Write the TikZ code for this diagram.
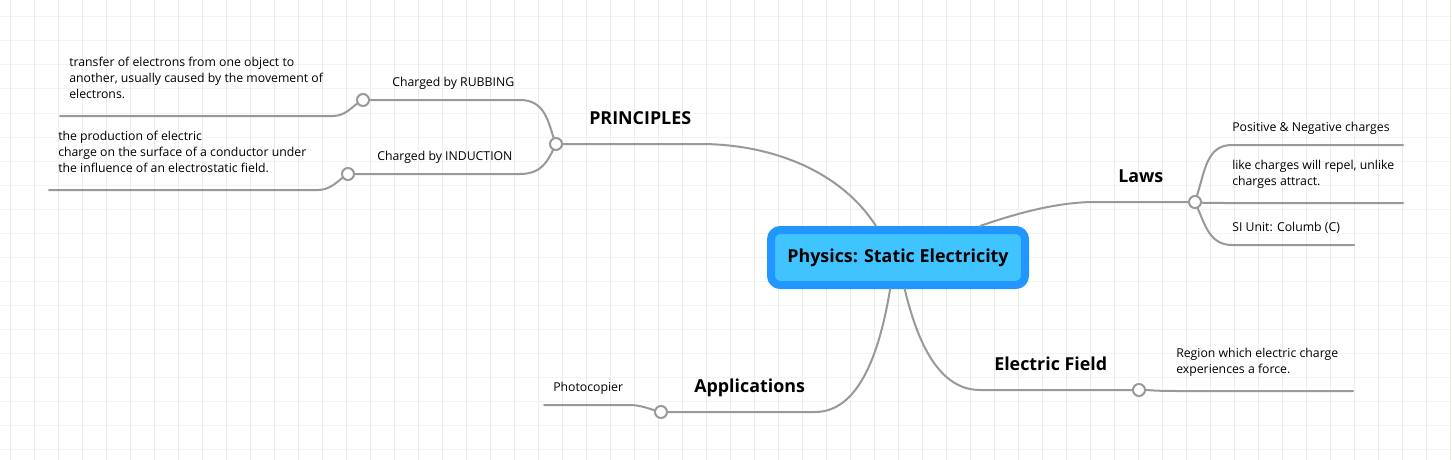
\documentclass[tikz,border=0pt]{standalone}
\usepackage{fontspec}
\setmainfont{Open Sans}
\definecolor{gridv}{HTML}{E8F0DF}
\definecolor{gridh}{HTML}{F1F5EC}
\definecolor{edgec}{HTML}{999999}
\definecolor{rootfill}{HTML}{40C4FF}
\definecolor{rootline}{HTML}{2196FF}
\newcommand{\px}[1]{\fontsize{#1*0.75pt}{#1*0.75pt}\selectfont}
\tikzset{
  x=0.75pt,y=-0.75pt,
  conn/.style={draw=edgec,line width=1.5pt,line cap=round},
  junction/.style={circle,draw=edgec,fill=white,line width=1.5pt,minimum size=9pt,inner sep=0pt},
  leaf/.style={anchor=base west,inner sep=0pt,align=left,font=\fontsize{9.2pt}{12pt}\selectfont,text=black},
  topic/.style={anchor=base west,inner sep=0pt,font=\fontsize{13.4pt}{16pt}\selectfont\bfseries,text=black},
  rootbox/.style={draw=rootline,fill=rootfill,line width=6pt,rounded corners=7pt,minimum width=190.5pt,minimum height=41.25pt,inner sep=0pt,font=\fontsize{13.4pt}{16pt}\selectfont\bfseries,text=black},
}
\begin{document}
\begin{tikzpicture}
\useasboundingbox (0,0) rectangle (1452,460);
\fill[white] (0,0) rectangle (1452,460);
\foreach \i in {0,...,60} {\draw[gridv,line width=0.75pt] ({10+24*\i},0) -- ({10+24*\i},460);}
\foreach \j in {0,...,18} {\draw[gridh,line width=0.75pt] (0,{17+24*\j}) -- (1452,{17+24*\j});}

\node[rootbox] (root) at (898,257.5) {Physics: Static Electricity};

\node[junction] (jp) at (556,144) {};
\node[junction] (jr) at (363,100) {};
\node[junction] (ji) at (348,174) {};
\node[junction] (jl) at (1195,202) {};
\node[junction] (ja) at (661,412) {};
\node[junction] (je) at (1139,390) {};

\coordinate (e1) at (60,116);
\coordinate (e2) at (49,190);
\coordinate (e3) at (1403,145);
\coordinate (e4) at (1403,203);
\coordinate (e5) at (1354,245);
\coordinate (e6) at (544,405);
\coordinate (e7) at (1353,391);

\begin{scope}[on background layer/.try]
\end{scope}
\draw[conn] (root.125) .. controls (840,170) and (770,144) .. (700,144) -- (jp);
\draw[conn] (root.21) .. controls (1020,212) and (1060,202) .. (1095,202) -- (jl);
\draw[conn] (root.256) .. controls (880,350) and (860,412) .. (815,412) -- (ja);
\draw[conn] (root.282) .. controls (918,345) and (940,390) .. (980,390) -- (je);

\draw[conn] (jp) .. controls (548,122) and (545,100) .. (520,100) -- (jr);
\draw[conn] (jp) .. controls (548,160) and (542,174) .. (520,174) -- (ji);
\draw[conn] (jr) .. controls (352,107) and (345,116) .. (333,116) -- (e1);
\draw[conn] (ji) .. controls (338,181) and (330,190) .. (318,190) -- (e2);

\draw[conn] (jl) .. controls (1205,170) and (1207,145) .. (1232,145) -- (e3);
\draw[conn] (jl) .. controls (1205,203) and (1215,203) .. (1232,203) -- (e4);
\draw[conn] (jl) .. controls (1205,225) and (1210,245) .. (1232,245) -- (e5);
\draw[conn] (ja) .. controls (650,409) and (640,405) .. (630,405) -- (e6);
\draw[conn] (je) .. controls (1148,390) and (1155,391) .. (1176,391) -- (e7);

\node[topic] (tp) at (589,124) {PRINCIPLES};
\node[topic] (tl) at (1118,182) {Laws};
\node[topic] (te) at (994,370) {Electric Field};
\node[topic] (ta) at (694,392) {Applications};

\node[leaf] (lr) at (392,86) {Charged by RUBBING};
\node[leaf] (li) at (377,160) {Charged by INDUCTION};
\node[leaf,anchor=north west] (d1) at (69,57) {transfer of electrons from one object to\\another, usually caused by the movement of\\electrons.};
\node[leaf,anchor=north west] (d2) at (58,131) {the production of electric\\charge on the surface of a conductor under\\the influence of an electrostatic field.};
\node[leaf] (p1) at (1232,131) {Positive \& Negative charges};
\node[leaf,anchor=north west] (p2) at (1232,160) {like charges will repel, unlike\\charges attract.};
\node[leaf] (p3) at (1232,231) {SI Unit: Columb (C)};
\node[leaf] (ph) at (553,391) {Photocopier};
\node[leaf,anchor=north west] (ef) at (1176,348) {Region which electric charge\\experiences a force.};
\end{tikzpicture}
\end{document}
